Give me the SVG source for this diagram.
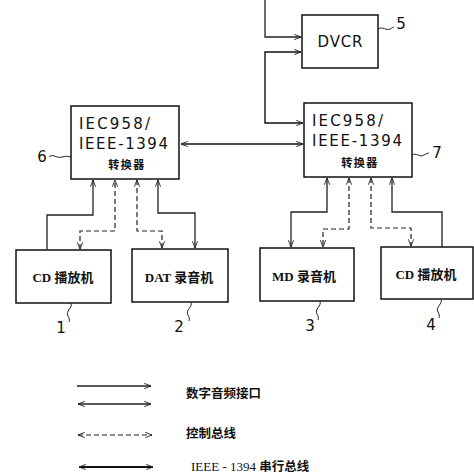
<svg xmlns="http://www.w3.org/2000/svg" width="474" height="474" viewBox="0 0 474 474">
<style>
.box{fill:#fff;stroke:#111;stroke-width:1.5}
.ln{fill:none;stroke:#222;stroke-width:1.3}
.ds{fill:none;stroke:#222;stroke-width:1.2;stroke-dasharray:5,3}
.bus{fill:none;stroke:#111;stroke-width:1.4}
.bus2{fill:none;stroke:#111;stroke-width:1.9}
.lbl{font-family:"DejaVu Sans","Liberation Sans",sans-serif;font-size:15px;fill:#111}
.num{font-family:"DejaVu Sans","Liberation Sans",sans-serif;font-size:15px;fill:#111}
.cn{font-family:"Liberation Serif","Noto Sans CJK SC",serif;font-size:13px;font-weight:bold;fill:#111}
.cs{font-family:"Noto Sans CJK SC",sans-serif;font-size:11px;font-weight:bold;fill:#111;letter-spacing:1.5px}
.lg{font-family:"Noto Sans CJK SC",sans-serif;font-size:12.5px;font-weight:bold;fill:#111}
.sq{fill:none;stroke:#222;stroke-width:1}
</style>
<defs>
<marker id="a" viewBox="0 0 10 8" refX="9" refY="4" markerWidth="8" markerHeight="6" markerUnits="userSpaceOnUse" orient="auto-start-reverse">
<path d="M0,0.5 L9,4 L0,7.5" fill="none" stroke="#222" stroke-width="1.2"/>
</marker>
</defs>

<g id="connectors">
<path class="ln" d="M265,0 V37 H301" marker-end="url(#a)"/>
<path class="bus" d="M301,52 H265 V123 H303" marker-start="url(#a)" marker-end="url(#a)"/>
<path class="bus" d="M181,144 H303" marker-start="url(#a)" marker-end="url(#a)"/>
<path class="ln" d="M47,250 V215 H93 V180" marker-end="url(#a)"/>
<path class="ds" d="M80,249 V231 H115 V180" marker-start="url(#a)" marker-end="url(#a)"/>
<path class="ds" d="M137,180 V231 H162 V248" marker-start="url(#a)" marker-end="url(#a)"/>
<path class="ln" d="M158,180 V213 H195 V248" marker-start="url(#a)" marker-end="url(#a)"/>
<path class="ln" d="M327,178 V212 H291 V247" marker-start="url(#a)" marker-end="url(#a)"/>
<path class="ds" d="M349,178 V229 H323 V247" marker-start="url(#a)" marker-end="url(#a)"/>
<path class="ds" d="M371,178 V228 H411 V246" marker-start="url(#a)" marker-end="url(#a)"/>
<path class="ln" d="M442,247 V212 H392 V178" marker-end="url(#a)"/>
</g>

<g id="node5">
<rect class="box" x="302" y="15" width="76" height="53"/>
<text class="lbl" x="340" y="47" text-anchor="middle" textLength="45">DVCR</text>
<path class="sq" d="M378,29 C383,26 386,31 390,29 C392,28 393,27 394,27"/>
<text class="num" x="401" y="29" text-anchor="middle">5</text>
</g>

<g id="node6">
<rect class="box" x="71" y="106" width="108" height="73"/>
<text class="lbl" x="79" y="129" textLength="71">IEC958/</text>
<text class="lbl" x="79" y="149" textLength="89">IEEE-1394</text>
<text class="cs" x="127" y="169" text-anchor="middle">转换器</text>
<path class="sq" d="M49,157 C53,153 57,159 62,157 C65,156 68,156 71,157"/>
<text class="num" x="42" y="162" text-anchor="middle">6</text>
</g>

<g id="node7">
<rect class="box" x="304" y="103" width="108" height="74"/>
<text class="lbl" x="312" y="126" textLength="71">IEC958/</text>
<text class="lbl" x="312" y="146" textLength="90">IEEE-1394</text>
<text class="cs" x="360" y="167" text-anchor="middle">转换器</text>
<path class="sq" d="M412,155 C416,152 420,158 424,155 C426,154 428,153 429,153"/>
<text class="num" x="437" y="158" text-anchor="middle">7</text>
</g>

<g id="node1">
<rect class="box" x="16" y="250" width="95" height="53"/>
<text class="cn" x="63" y="282" text-anchor="middle">CD 播放机</text>
<path class="sq" d="M71,303 C73,308 65,311 68,316 C69,318 70,320 69,322"/>
<text class="num" x="61" y="333" text-anchor="middle">1</text>
</g>

<g id="node2">
<rect class="box" x="132" y="249" width="96" height="53"/>
<text class="cn" x="179" y="282" text-anchor="middle">DAT 录音机</text>
<path class="sq" d="M191,302 C193,307 185,310 188,315 C189,317 190,319 189,321"/>
<text class="num" x="179" y="332" text-anchor="middle">2</text>
</g>

<g id="node3">
<rect class="box" x="260" y="248" width="94" height="53"/>
<text class="cn" x="304" y="281" text-anchor="middle">MD 录音机</text>
<path class="sq" d="M320,301 C322,306 314,309 317,314 C318,316 319,318 318,320"/>
<text class="num" x="310" y="331" text-anchor="middle">3</text>
</g>

<g id="node4">
<rect class="box" x="381" y="247" width="92" height="52"/>
<text class="cn" x="426" y="279" text-anchor="middle">CD 播放机</text>
<path class="sq" d="M441,299 C443,304 435,307 438,312 C439,314 440,316 439,318"/>
<text class="num" x="431" y="330" text-anchor="middle">4</text>
</g>

<g id="legend">
<path class="ln" d="M77,386 H151" marker-end="url(#a)"/>
<path class="ln" d="M78,404 H151" marker-start="url(#a)" marker-end="url(#a)"/>
<path class="ds" d="M78,435 H152" marker-start="url(#a)" marker-end="url(#a)"/>
<path class="bus2" d="M79,467 H153" marker-start="url(#a)" marker-end="url(#a)"/>
<text class="lg" x="186" y="398">数字音频接口</text>
<text class="lg" x="186" y="438">控制总线</text>
<text class="cn" x="191" y="471" style="font-weight:normal">IEEE - 1394 <tspan style="font-family:'Noto Sans CJK SC',sans-serif;font-weight:bold;font-size:12.5px">串行总线</tspan></text>
</g>
</svg>
